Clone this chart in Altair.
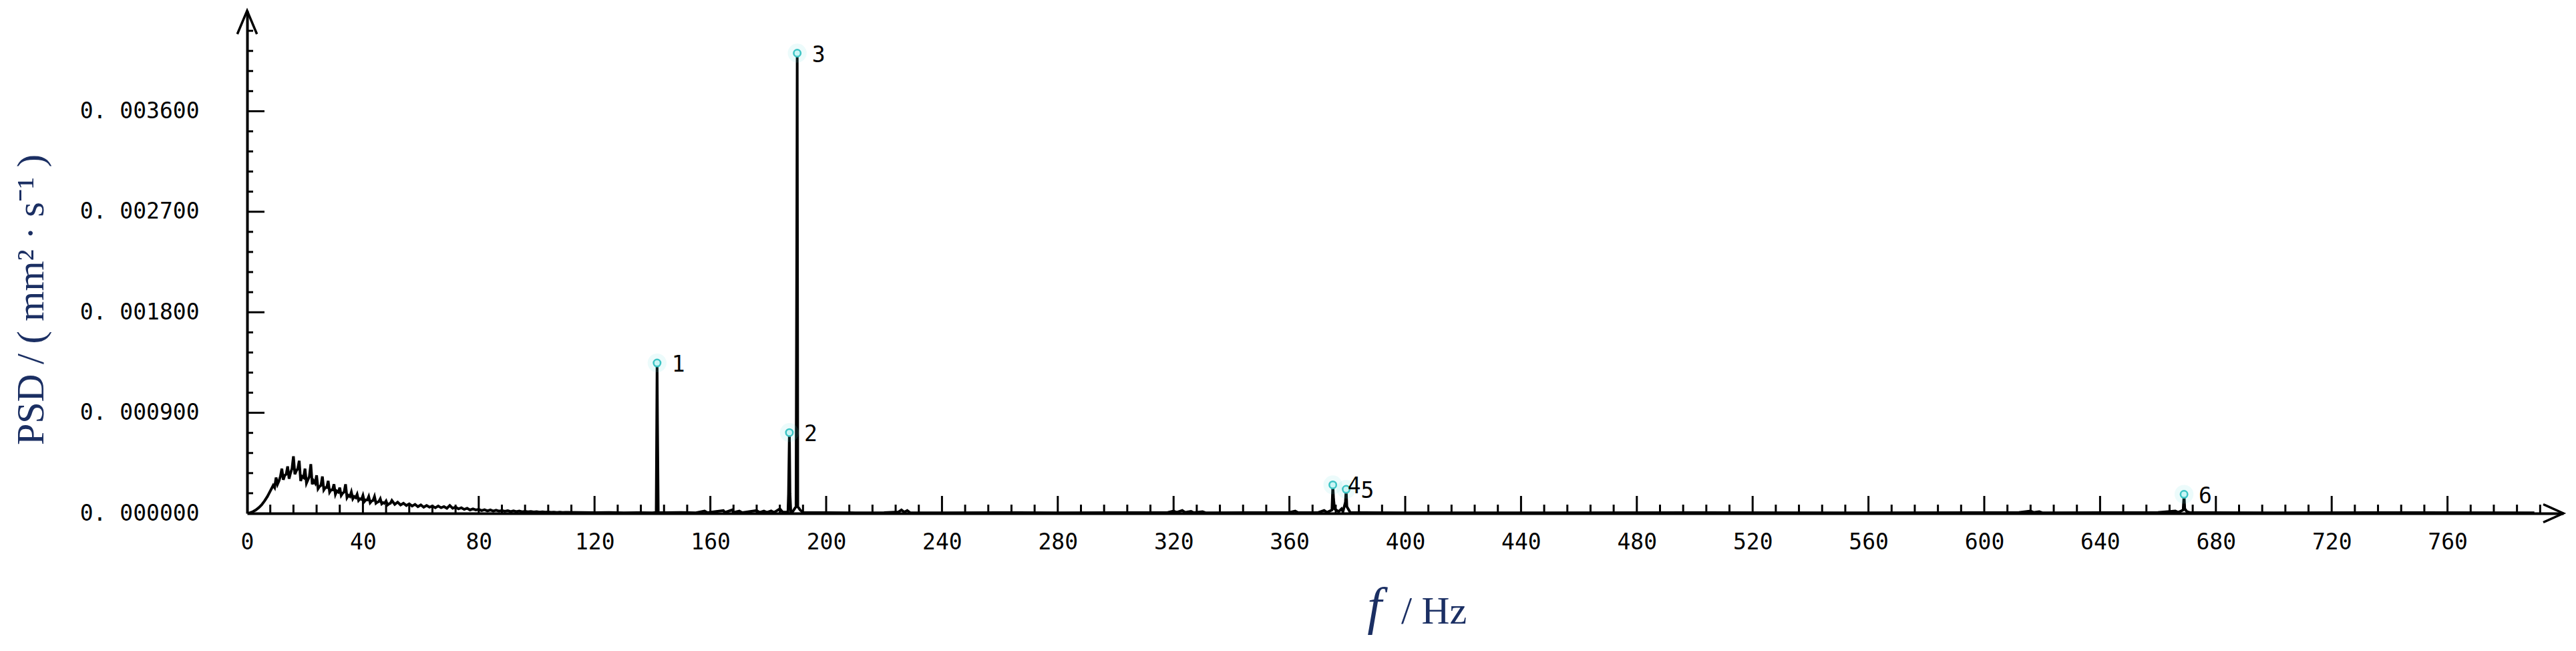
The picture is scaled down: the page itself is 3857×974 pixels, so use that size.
import altair as alt
import pandas as pd

# ---------------- data ----------------
# low-frequency broadband part: frequency (Hz) and PSD in 1e-6 mm^2·s^-1
HUMP_F = list(range(0, 111))
HUMP_V = [0, 5, 15, 30, 50, 75, 110, 150, 200, 250, 320,
          290, 400, 340, 420, 360, 510, 380, 470, 330, 400,
          300, 440, 290, 340, 240, 330, 230, 290, 210, 260,
          200, 230, 180, 260, 160, 190, 150, 170, 130, 160,
          120, 150, 110, 150, 100, 130, 95, 110, 85, 115,
          80, 100, 75, 90, 70, 85, 65, 80, 60, 75,
          55, 70, 55, 65, 50, 65, 50, 60, 45, 70,
          45, 55, 40, 50, 35, 45, 30, 40, 30, 35,
          25, 32, 22, 30, 20, 28, 20, 25, 18, 24,
          16, 22, 15, 20, 14, 18, 13, 17, 12, 15,
          11, 14, 10, 12, 9, 11, 8, 10, 8, 9]

# in-between bins of the broadband part (9.5 ... 49.5 Hz)
HALF_F = [9.5 + k for k in range(41)]
HALF_V = [230, 260, 330, 300, 350, 310, 400, 350, 400, 290,
          320, 270, 330, 260, 270, 220, 250, 210, 230, 190,
          210, 170, 190, 160, 190, 140, 150, 130, 140, 115,
          125, 105, 120, 95, 115, 90, 105, 85, 90, 75,
          90]

# remaining spectrum: frequency (Hz) and PSD in 1e-6 mm^2·s^-1
SPEC_F = [115, 120, 125, 130, 135, 140, 141.3, 141.6, 141.75, 142.0,
          145, 150, 155, 158, 159, 164.5, 165, 167.5, 168, 170,
          171, 176, 177, 178.5, 179.5, 181, 182, 184, 185, 186.8,
          187.0, 187.3, 187.5, 187.8, 188.3, 189.6, 189.85, 190.0, 190.2, 191.0,
          192, 200, 210, 220, 225, 226, 227, 228, 229, 240,
          260, 280, 300, 318, 320, 321, 323, 324, 326, 327,
          330, 331, 345, 360, 362, 363, 370, 372, 373, 374.7,
          375.0, 375.25, 375.6, 377, 378, 378.5, 379.35, 379.6, 379.85, 381,
          385, 400, 450, 500, 550, 600, 612, 616, 617, 619,
          620, 640, 660, 666, 667, 668.7, 669.0, 669.25, 670, 671,
          700, 750, 790]
SPEC_V = [8, 6, 7, 5, 6, 5, 8, 1346, 790, 8,
          6, 7, 5, 20, 6, 25, 8, 30, 8, 20,
          6, 25, 8, 20, 8, 22, 8, 40, 10, 10,
          174, 723, 174, 10, 10, 60, 2460, 4120, 60, 30,
          8, 6, 5, 6, 12, 30, 10, 25, 6, 5,
          6, 5, 6, 8, 20, 8, 25, 8, 18, 6,
          15, 5, 6, 8, 20, 6, 8, 25, 8, 30,
          255, 130, 40, 15, 40, 15, 100, 215, 60, 8,
          6, 5, 5, 6, 5, 6, 8, 20, 8, 15,
          5, 6, 8, 20, 8, 30, 170, 40, 15, 6,
          5, 6, 5]

# labelled peaks
PEAK_F = [141.6, 187.3, 190.0, 375.0, 379.6, 669.0]
PEAK_V = [0.001346, 0.000723, 0.00412, 0.000255, 0.000215, 0.00017]
PEAK_LABEL = ["1", "2", "3", "4", "5", "6"]

# axes
X_LABELS = list(range(0, 800, 40))
X_MAJOR = list(range(40, 800, 40))
X_MINOR = [v for v in range(8, 800, 8) if v % 40 != 0]
Y_LABELS = [0.0, 0.0009, 0.0018, 0.0027, 0.0036]
Y_MAJOR = [0.0009, 0.0018, 0.0027, 0.0036]
Y_MINOR = [k * 0.00018 for k in range(1, 25) if k % 5 != 0]
Y_TITLE = "PSD / ( mm\u00b2 \u00b7 s\u207b\u00b9 )"
X_TITLE_VAR = ["f"]
X_TITLE_UNIT = ["/ Hz"]

# ---------------- chart ----------------
W, H = 3468, 752
XMAX, YMAX = 800, 0.0045
TITLE_COLOR = "#1b2f63"
MONO = "DejaVu Sans Mono"
SERIF = "Liberation Serif"

spec = pd.DataFrame({
    "f": HUMP_F + HALF_F + SPEC_F,
    "psd": [v * 1e-6 for v in HUMP_V + HALF_V + SPEC_V],
}).sort_values("f").reset_index(drop=True)
spec["i"] = range(len(spec))

peaks = pd.DataFrame({"f": PEAK_F, "psd": PEAK_V, "label": PEAK_LABEL})

xs = alt.Scale(domain=[0, XMAX], nice=False, zero=False)
ys = alt.Scale(domain=[0, YMAX], nice=False)

AX_X = alt.Axis(
    values=X_LABELS, format="d", labelFont=MONO, labelFontSize=33,
    labelColor="black", labelPadding=27, ticks=False, tickSize=0,
    domainColor="black", domainWidth=4, grid=False, title=None,
    labelFlush=False, labelOverlap=False)
AX_Y = alt.Axis(
    values=Y_LABELS,
    labelExpr="replace(format(datum.value, '.6f'), '.', '. ')",
    labelFont=MONO, labelFontSize=33, labelColor="black",
    labelPadding=72, ticks=False, tickSize=0,
    domainColor="black", domainWidth=4, grid=False,
    title=Y_TITLE, titleFont=SERIF, titleFontSize=58,
    titleFontWeight="normal", titleColor=TITLE_COLOR,
    titleX=-323, titleY=432, titleAlign="center",
    titleBaseline="middle", labelFlush=False, labelOverlap=False)

X_ENC = alt.X("f:Q", scale=xs, axis=AX_X)
Y_ENC = alt.Y("psd:Q", scale=ys, axis=AX_Y)

line = alt.Chart(spec).mark_line(color="black", strokeWidth=4, clip=True).encode(
    x=X_ENC, y=Y_ENC, order="i:Q")


def xtick(vals, length):
    return alt.Chart(pd.DataFrame({"f": vals})).mark_rule(
        color="black", strokeWidth=3).encode(
        x=X_ENC, y=alt.value(H), y2=alt.value(H - length))


def ytick(vals, length):
    return alt.Chart(pd.DataFrame({"psd": vals})).mark_rule(
        color="black", strokeWidth=3).encode(
        y=Y_ENC, x=alt.value(0), x2=alt.value(length))


# arrow heads at the ends of the axes
yarrow = alt.Chart(pd.DataFrame({"f": [0], "psd": [YMAX]})).mark_point(
    shape="M-0.42,1L0,0L0.42,1", filled=False, stroke="black",
    strokeWidth=3.5, size=4900, opacity=1).encode(x=X_ENC, y=Y_ENC)
xarrow = alt.Chart(pd.DataFrame({"f": [XMAX], "psd": [0]})).mark_point(
    shape="M-1,-0.45L0,0L-1,0.45", filled=False, stroke="black",
    strokeWidth=3.5, size=3600, opacity=1).encode(x=X_ENC, y=Y_ENC)

glow = alt.Chart(peaks).mark_circle(size=800, color="#6fe3e3", opacity=0.13).encode(
    x=X_ENC, y=Y_ENC)
marks = alt.Chart(peaks).mark_point(
    shape="circle", filled=True, fill="#c9f5f5", stroke="#3cc4c4",
    strokeWidth=2.5, size=110, opacity=1).encode(x=X_ENC, y=Y_ENC)
labels = alt.Chart(peaks).mark_text(
    font=MONO, fontSize=33, color="black", align="left", baseline="middle",
    dx=22, dy=3).encode(x=X_ENC, y=Y_ENC, text="label:N")

xt_var = alt.Chart(pd.DataFrame({"t": X_TITLE_VAR})).mark_text(
    font=SERIF, fontStyle="italic", fontSize=78, align="center",
    baseline="alphabetic", color=TITLE_COLOR).encode(
    text="t:N", x=alt.value(1688), y=alt.value(917))
xt_unit = alt.Chart(pd.DataFrame({"t": X_TITLE_UNIT})).mark_text(
    font=SERIF, fontSize=58, align="left", baseline="alphabetic",
    color=TITLE_COLOR).encode(
    text="t:N", x=alt.value(1728), y=alt.value(917))

chart = alt.layer(
    line,
    xtick(X_MINOR, 13), xtick(X_MAJOR, 26),
    ytick(Y_MINOR, 9), ytick(Y_MAJOR, 26),
    yarrow, xarrow, glow, marks, labels, xt_var, xt_unit,
).properties(
    width=W, height=H,
    padding={"left": 362, "top": 8, "right": 11, "bottom": 190},
    autosize=alt.AutoSizeParams(type="none"),
    background="white",
).configure_view(stroke=None)

chart.save("out.html", embed_options={"renderer": "svg", "actions": False})
